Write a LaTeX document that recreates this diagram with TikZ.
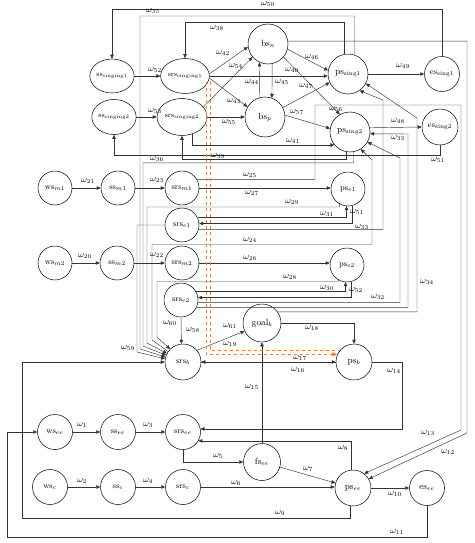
\documentclass[tikz,border=0pt]{standalone}
\usepackage{tikz}
\usetikzlibrary{shapes.geometric, arrows.meta}
\definecolor{DashOrange}{HTML}{E8833A}

\begin{document}
\begin{tikzpicture}[x=1pt, y=-1pt,
    st/.style={circle, draw, line width=0.5pt, minimum size=34pt, inner sep=0pt, font=\footnotesize},
    bigst/.style={circle, draw, line width=0.5pt, minimum size=40pt, inner sep=0pt, font=\small},
    ovst/.style={ellipse, draw, line width=0.5pt, minimum width=46pt, minimum height=35pt, inner sep=0pt, font=\scriptsize},
    wt/.style={font=\small, inner sep=0.5pt},
    conn/.style={-{Triangle[length=4pt, width=3.5pt]}, line width=0.45pt, draw=black!80},
    orangeline/.style={draw=DashOrange, dashed, line width=0.5pt}]
    \useasboundingbox (0,0) rectangle (474,543);

    % Singing states
    \node[ovst, minimum width=42pt, minimum height=34pt] (sss1) at (112,76) {ss$_{\mathrm{singing1}}$};
    \node[ovst, minimum width=48pt] (srss1) at (185,76) {srs$_{\mathrm{singing1}}$};
    \node[ovst, minimum width=44pt] (sss2) at (114,117) {ss$_{\mathrm{singing2}}$};
    \node[ovst, minimum width=50pt, minimum height=37pt] (srss2) at (182,117) {srs$_{\mathrm{singing2}}$};
    \node[bigst] (bsn) at (268,44) {bs$_n$};
    \node[bigst] (bsp) at (265,117) {bs$_p$};
    \node[bigst] (pss1) at (348,74) {ps$_{\mathrm{sing1}}$};
    \node[st, minimum size=35pt] (ess1) at (442,74) {es$_{\mathrm{sing1}}$};
    \node[bigst] (pss2) at (350,132) {ps$_{\mathrm{sing2}}$};
    \node[st, minimum size=36pt] (ess2) at (440,127) {es$_{\mathrm{sing2}}$};

    % Music and evaluation states
    \node[st] (wsm1) at (55,188) {ws$_{m1}$};
    \node[st] (ssm1) at (118,188) {ss$_{m1}$};
    \node[st] (srsm1) at (182,188) {srs$_{m1}$};
    \node[st] (srse1) at (182,225) {srs$_{e1}$};
    \node[st] (psE1) at (348,189) {ps$_{e1}$};
    \node[st] (wsm2) at (55,263) {ws$_{m2}$};
    \node[st] (ssm2) at (117,263) {ss$_{m2}$};
    \node[st] (srsm2) at (182,263) {srs$_{m2}$};
    \node[st] (psE2) at (347,265) {ps$_{e2}$};
    \node[st] (srse2) at (181,300) {srs$_{e2}$};

    % Behaviour states
    \node[st, minimum size=36pt] (srsb) at (183,362) {srs$_b$};
    \node[st, minimum size=38pt, font=\small] (goalb) at (262,323) {goal$_b$};
    \node[st, minimum size=36pt, font=\small] (psb) at (354,362) {ps$_b$};

    % Emotion states
    \node[st, minimum size=35pt] (wsee) at (55,432) {ws$_{ee}$};
    \node[st, minimum size=35pt] (ssee) at (118,432) {ss$_{ee}$};
    \node[st, minimum size=35pt] (srsee) at (183,432) {srs$_{ee}$};
    \node[st, minimum size=35pt] (wsc) at (50,487) {ws$_{c}$};
    \node[st, minimum size=35pt] (ssc) at (118,487) {ss$_{c}$};
    \node[st, minimum size=35pt] (srsc) at (183,487) {srs$_{c}$};
    \node[st, minimum size=37pt, font=\small] (fsee) at (262,462) {fs$_{ee}$};
    \node[st, minimum size=36pt, font=\small] (psee) at (353,488) {ps$_{ee}$};
    \node[st, minimum size=35pt, font=\small] (esee) at (427,488) {es$_{ee}$};

    % Bottom chain
    \draw[conn] (wsee) -- (ssee);
    \draw[conn] (ssee) -- (srsee);
    \draw[conn] (wsc) -- (ssc);
    \draw[conn] (ssc) -- (srsc);
    \draw[conn] (srsee.south) |- (fsee.west);
    \draw[conn] (srsc.east) -- (srsc.east -| psee.west);
    \draw[conn] (fsee) -- (psee);
    \draw[conn] (psee.95) |- (srsee.-30);
    \draw[conn] (psee) -- (esee);
    \draw[conn] (esee.south) |- (7,537) |- (wsee.west);
    \draw[conn] (psee.-100) |- (22,518) |- (srsb.west);
    \draw[conn] (psb.east) -- ++(30,0) |- (srsee.10);
    \draw[conn] (bsn.8) -| (467,433) -- (psee.30);
    \draw[conn] (srsm1.30) -| (315,105) -| (461,430) -- (psee.52);

    % Singing cluster
    \draw[conn] (sss1) -- (srss1);
    \draw[conn] (sss2) -- (srss2);
    \draw[conn] (srss1.5) -- (bsn.188);
    \draw[conn] (srss1.-5) -- (bsp.150);
    \draw[conn] (srss2.25) -- (bsn.-140);
    \draw[conn] (srss2) -- (bsp);
    \draw[conn] (bsp.105) -- (bsn.-115);
    \draw[conn] (bsn.-78) -- (bsp.70);
    \draw[conn] (srss1.east) -- (srss1.east -| pss1.west);
    \draw[conn] (bsn.-15) -- (pss1.170);
    \draw[conn] (bsn.-40) -- (pss2.120);
    \draw[conn] (bsp.28) -- (pss1.-155);
    \draw[conn] (bsp.5) -- (pss2.170);
    \draw[conn] (pss1) -- (ess1);
    \draw[conn] (pss2.12) -- (ess2.west);
    \draw[conn] (ess1.north) |- (112,9) -- (sss1.north);
    \draw[conn] (ess2.south) -- ++(0,10) -| (sss2.south);
    \draw[conn] (pss1.100) -- ++(0,-32) -| (srss1.north);
    \draw[conn] (pss2.-100) -- ++(0,7.3) -| (srss2.south);
    \draw[conn] (srss2.-60) |- (pss2.-140);

    % Into srs_b from the left
    \draw[conn] (pss1.72) |- (140,16) -- (140,349) -- (srsb.164);
    \draw[conn] (pss2.-80) -- ++(0,11) -| (143,346) -- (srsb.158);
    \draw[conn] (psE1.-120) |- (147,207) -- (147,343) -- (srsb.152);
    \draw[conn] (psE2.-120) |- (157,281.5) -- (157,337) -- (srsb.135);
    \draw[conn] (srse1.west) -| (137,352) -- (srsb.170);
    \draw[conn] (srse2.south) -- (srsb.95);

    % Music and evaluation links
    \draw[conn] (wsm1) -- (ssm1);
    \draw[conn] (ssm1) -- (srsm1);
    \draw[conn] (wsm2) -- (ssm2);
    \draw[conn] (ssm2) -- (srsm2);
    \draw[conn] (srsm1.east) -- (srsm1.east -| psE1.west);
    \draw[conn] (srsm2.east) -- (srsm2.east -| psE2.west);
    \draw[conn] (srse1.25) -| (psE1.-95);
    \draw[conn] (psE1.-75) |- (srse1.5);
    \draw[conn] (srse2.30) -| (psE2.-95);
    \draw[conn] (psE2.-75) |- (srse2.8);
    \draw[conn] (srse1.-15) -| (383,100) -- (pss1.-55);
    \draw[conn] (srse2.-8) -| (400,158) -- (pss2.-30);
    \draw[conn] (srse2.-25) -| (408,134) -- (pss2.-5);
    \draw[conn] (srsb.145) -- (152,340) |- (372,244.5) -- (372,160) -- (pss2.-58);
    \draw[conn] (goalb.35) -| (417,118) -- (pss1.-28);

    % Behaviour links
    \draw[conn] (srsb.40) -- (goalb.205);
    \draw[conn] (fsee) -- (goalb);
    \draw[conn] (goalb.east) -| (psb.north);
    \draw[conn] (srsb) -- (psb);
    \draw[conn] (psb) -- (srsb);
    \draw[orangeline, -{Triangle[length=5pt, width=4pt]}] ([xshift=-2pt]srss1.-15) |- (psb.155);
    \draw[orangeline] ([xshift=2pt]srss1.-15) |- (psb.140);

    % Weights
    \node[wt] (w1) at (82,425) {$\omega_{1}$};
    \node[wt] (w2) at (82,481) {$\omega_{2}$};
    \node[wt] (w3) at (148,425) {$\omega_{3}$};
    \node[wt] (w4) at (148,481) {$\omega_{4}$};
    \node[wt] (w5) at (218,456) {$\omega_{5}$};
    \node[wt] (w6) at (236,483) {$\omega_{6}$};
    \node[wt] (w7) at (308,469) {$\omega_{7}$};
    \node[wt] (w8) at (343,448) {$\omega_{8}$};
    \node[wt] (w9) at (280,513) {$\omega_{9}$};
    \node[wt] (w10) at (395,494) {$\omega_{10}$};
    \node[wt] (w11) at (397,532) {$\omega_{11}$};
    \node[wt] (w12) at (448,452) {$\omega_{12}$};
    \node[wt] (w13) at (428,433) {$\omega_{13}$};
    \node[wt] (w14) at (394,371) {$\omega_{14}$};
    \node[wt] (w15) at (252,387) {$\omega_{15}$};
    \node[wt] (w16) at (298,370) {$\omega_{16}$};
    \node[wt] (w17) at (300,358) {$\omega_{17}$};
    \node[wt] (w18) at (312,328) {$\omega_{18}$};
    \node[wt] (w19) at (230,344) {$\omega_{19}$};
    \node[wt] (w20) at (85,256) {$\omega_{20}$};
    \node[wt] (w21) at (88,181) {$\omega_{21}$};
    \node[wt] (w22) at (157,255) {$\omega_{22}$};
    \node[wt] (w23) at (157,180) {$\omega_{23}$};
    \node[wt] (w24) at (250,240) {$\omega_{24}$};
    \node[wt] (w25) at (250,175) {$\omega_{25}$};
    \node[wt] (w26) at (250,258) {$\omega_{26}$};
    \node[wt] (w27) at (252,193) {$\omega_{27}$};
    \node[wt] (w28) at (290,277) {$\omega_{28}$};
    \node[wt] (w29) at (292,202) {$\omega_{29}$};
    \node[wt] (w30) at (327,288) {$\omega_{30}$};
    \node[wt] (w31) at (327,214) {$\omega_{31}$};
    \node[wt] (w32) at (378,297) {$\omega_{32}$};
    \node[wt] (w33) at (362,227) {$\omega_{33}$};
    \node[wt] (w33b) at (398,138) {$\omega_{33}$};
    \node[wt] (w34) at (427,282) {$\omega_{34}$};
    \node[wt] (w35) at (153,11) {$\omega_{35}$};
    \node[wt] (w36) at (157,159) {$\omega_{36}$};
    \node[wt] (w38) at (217,28) {$\omega_{38}$};
    \node[wt] (w39) at (218,156) {$\omega_{39}$};
    \node[wt] (w40) at (292,70) {$\omega_{40}$};
    \node[wt] (w41) at (293,141) {$\omega_{41}$};
    \node[wt] (w42) at (223,53) {$\omega_{42}$};
    \node[wt] (w43) at (234,101) {$\omega_{43}$};
    \node[wt] (w44) at (252,82) {$\omega_{44}$};
    \node[wt] (w45) at (282,82) {$\omega_{45}$};
    \node[wt] (w46) at (312,57) {$\omega_{46}$};
    \node[wt] (w47) at (306,86) {$\omega_{47}$};
    \node[wt] (w48) at (398,121) {$\omega_{48}$};
    \node[wt] (w49) at (403,66) {$\omega_{49}$};
    \node[wt, inner sep=0pt] (w50) at (268,4.5) {$\omega_{50}$};
    \node[wt] (w51) at (438,160) {$\omega_{51}$};
    \node[wt] (w51b) at (357,212) {$\omega_{51}$};
    \node[wt] (w52) at (155,70) {$\omega_{52}$};
    \node[wt] (w52b) at (356,290) {$\omega_{52}$};
    \node[wt] (w53) at (155,111) {$\omega_{53}$};
    \node[wt] (w54) at (236,66) {$\omega_{54}$};
    \node[wt] (w55) at (229,122) {$\omega_{55}$};
    \node[wt] (w56) at (336,109) {$\omega_{56}$};
    \node[wt] (w57) at (297,112) {$\omega_{57}$};
    \node[wt] (w58) at (193,330) {$\omega_{58}$};
    \node[wt] (w59) at (128,348) {$\omega_{59}$};
    \node[wt] (w60) at (170,323) {$\omega_{60}$};
    \node[wt] (w61) at (230,326) {$\omega_{61}$};
\end{tikzpicture}
\end{document}
